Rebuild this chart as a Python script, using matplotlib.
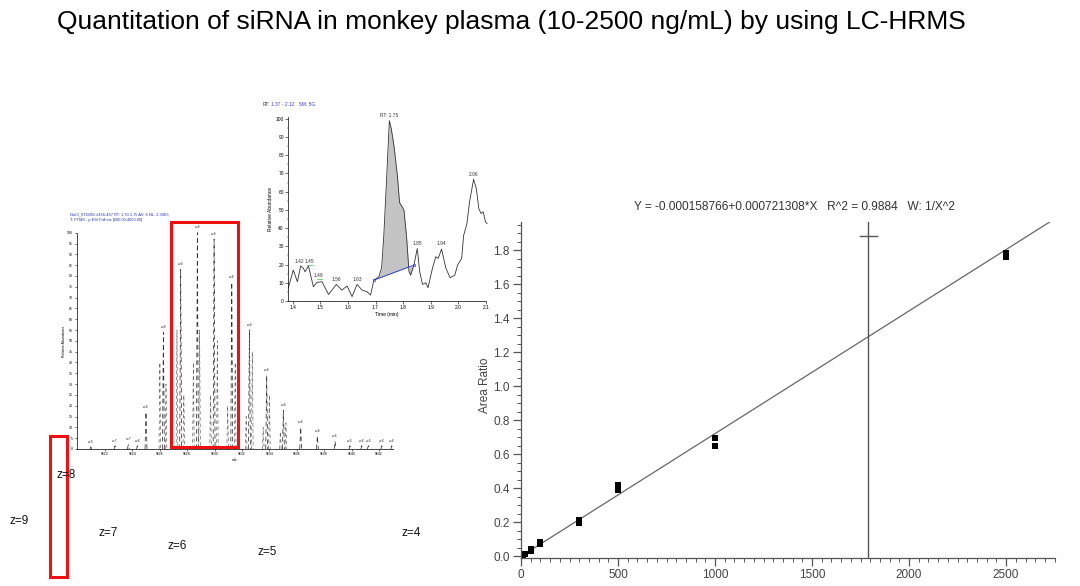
import numpy as np
import matplotlib
matplotlib.use("Agg")
import matplotlib.pyplot as plt
from matplotlib.ticker import MultipleLocator
from matplotlib.patches import Rectangle

plt.rcParams['font.family'] = ['Liberation Sans', 'DejaVu Sans']

# ---- calibration data (ng/mL vs area ratio, duplicates) ----
conc = [10, 10, 20, 20, 50, 50, 100, 100, 300, 300, 500, 500, 1000, 1000, 2500, 2500]
area_ratio = [0.004, 0.008, 0.011, 0.015, 0.032, 0.040, 0.070, 0.085,
              0.195, 0.212, 0.392, 0.420, 0.648, 0.698, 1.762, 1.780]
intercept = -0.000158766
slope = 0.000721308
fit_range = [0, 2760]
cursor_x = 1790
cursor_y = 1.88

# ---- extracted ion chromatogram (time min, relative abundance) ----
eic_t = [1.384, 1.402, 1.417, 1.429, 1.439, 1.445, 1.457, 1.475, 1.487, 1.506,
         1.530, 1.558, 1.578, 1.597, 1.615, 1.633, 1.651, 1.669, 1.682, 1.694,
         1.712, 1.722, 1.730, 1.740, 1.750, 1.757, 1.767, 1.779, 1.787, 1.797,
         1.803, 1.813, 1.821, 1.827, 1.839, 1.851, 1.860, 1.870, 1.882, 1.890,
         1.906, 1.918, 1.927, 1.939, 1.955, 1.970, 1.987, 1.997, 2.012, 2.019,
         2.031, 2.040, 2.055, 2.065, 2.074, 2.082, 2.090, 2.098, 2.104]
eic_a = [7, 17, 10.6, 19.3, 17.9, 16, 19.3, 7.8, 10.2, 10.6,
         3.6, 9.1, 6, 8.2, 2.4, 9.1, 6, 5.1, 3.3, 11.5,
         13.3, 18.2, 36, 67, 99, 94.5, 85, 69, 54, 51.6,
         49.8, 34, 16, 14.2, 19.7, 28.8, 16, 9.1, 10, 7.3,
         17.9, 24.3, 23.4, 28.5, 17.9, 12.8, 14.2, 19.7, 23.4, 36,
         42.5, 54, 66.8, 61.7, 50.7, 48, 49, 43.4, 42.5]
eic_labels = ['1.42', '1.45', '1.49', '1.56', '1.63', '1.85', '1.94', '2.06']
eic_label_t = [1.425, 1.462, 1.492, 1.558, 1.633, 1.851, 1.939, 2.055]
eic_label_a = [20.5, 20.5, 12.5, 10.5, 10.5, 30, 30, 68]
peak_start, peak_end = 1.694, 1.839

# ---- mass spectrum (m/z, relative abundance) ----
ms_mz = [9620.96, 9622.73, 9623.70, 9624.36, 9624.99, 9626.26, 9627.52, 9628.74,
         9629.96, 9631.25, 9632.54, 9633.80, 9635.02, 9636.28, 9637.50, 9638.79,
         9639.88, 9640.74, 9641.22, 9642.20, 9642.93]
ms_int = [1, 1.5, 2, 1.5, 17, 54, 83, 100, 97, 77, 55, 34, 18, 10, 6, 3.5,
          1.5, 1.5, 1.5, 1.5, 1.5]
ms_z = ['z=5', 'z=7', 'z=7', 'z=6', 'z=6', 'z=6', 'z=6', 'z=6', 'z=6', 'z=6',
        'z=6', 'z=6', 'z=6', 'z=6', 'z=6', 'z=6', 'z=5', 'z=6', 'z=5', 'z=6', 'z=6']
side_mz = [9626.00, 9626.45, 9627.25, 9627.75, 9628.45, 9628.90, 9629.70, 9630.20,
           9630.95, 9631.50, 9632.30, 9632.75, 9633.55, 9634.00, 9634.80, 9635.20]
side_int = [40, 30, 55, 25, 40, 55, 25, 50, 20, 40, 15, 45, 10, 25, 8, 12]
ms_ticks = [9622, 9624, 9626, 9628, 9630, 9632, 9634, 9636, 9638, 9640, 9642]

charge_labels = ['z=8', 'z=9', 'z=7', 'z=6', 'z=5', 'z=4']
charge_xy = [(66, 475), (19, 521), (108, 533), (177, 546), (267, 552), (411, 533)]

W, H = 1080, 586
fig = plt.figure(figsize=(W / 100, H / 100), dpi=100)


def px_axes(x0, y0, x1, y1):
    # pixel box (top-left origin) -> figure axes
    return fig.add_axes([x0 / W, 1 - y1 / H, (x1 - x0) / W, (y1 - y0) / H])


fig.text(511 / W, 1 - 22 / H,
         'Quantitation of siRNA in monkey plasma (10-2500 ng/mL) by using LC-HRMS',
         ha='center', va='center', fontsize=19, color='black')

# ================= calibration curve =================
ax = px_axes(521, 222, 1055, 558)
ax.set_xlim(0, 2752)
ax.set_ylim(-0.01, 1.965)
ax.plot(fit_range, [intercept + slope * x for x in fit_range], color='#666666', lw=0.9)
ax.plot(conc, area_ratio, 's', color='black', ms=5, mew=0)
ax.axvline(cursor_x, color='#555555', lw=1)
ax.plot([cursor_x - 45, cursor_x + 45], [cursor_y, cursor_y], color='#555555', lw=1)
for s in ['top', 'right']:
    ax.spines[s].set_visible(False)
for s in ['left', 'bottom']:
    ax.spines[s].set_color('#555555')
    ax.spines[s].set_linewidth(0.9)
ax.set_xticks([0, 500, 1000, 1500, 2000, 2500])
ax.set_yticks(np.arange(0, 1.81, 0.2))
ax.set_yticklabels(['%.1f' % v for v in np.arange(0, 1.81, 0.2)])
ax.xaxis.set_minor_locator(MultipleLocator(50))
ax.yaxis.set_minor_locator(MultipleLocator(0.05))
ax.tick_params(which='major', direction='out', length=6, width=0.9, color='#555555',
               labelsize=8.5, labelcolor='#444444', pad=2)
ax.tick_params(which='minor', direction='out', length=3, width=0.7, color='#555555')
ax.set_ylabel('Area Ratio', fontsize=8.5, color='#444444')
ax.yaxis.set_label_coords(-0.056, 0.515)
ax.set_title('Y = -0.000158766+0.000721308*X   R^2 = 0.9884   W: 1/X^2',
             fontsize=8.6, color='#333333', pad=9, x=0.512)

# ================= mass spectrum =================
ms = px_axes(76.7, 232.7, 393, 449)
ms.set_xlim(9619.93, 9643.02)
ms.set_ylim(0, 100)
for c, h in zip(side_mz, side_int):
    ms.plot([c - 0.06, c, c + 0.06], [0, h, 0], color='#666666', lw=0.5,
            dashes=(5, 4), clip_on=False)
for c, h, lab in zip(ms_mz, ms_int, ms_z):
    ms.plot([c - 0.07, c, c + 0.07], [0, h, 0], color='#333333', lw=0.55,
            dashes=(6, 4), clip_on=False)
    ms.text(c, h + 1.5, lab, fontsize=2.5, ha='center', va='bottom', color='#222222')
for s in ['top', 'right']:
    ms.spines[s].set_visible(False)
for s in ['left', 'bottom']:
    ms.spines[s].set_linewidth(0.5)
ms.set_xticks(ms_ticks)
ms.set_xticklabels([str(t) for t in ms_ticks])
ms.set_yticks(np.arange(0, 101, 5))
ms.xaxis.set_minor_locator(MultipleLocator(0.5))
ms.tick_params(which='major', length=1.5, width=0.4, labelsize=2.5, pad=1)
ms.tick_params(which='minor', length=1, width=0.3)
ms.set_ylabel('Relative Abundance', fontsize=2.5, labelpad=1)
ms.set_xlabel('m/z', fontsize=2.5, labelpad=1)
ms.text(-0.02, 1.08, 'NaCl_STD001 #456-467 RT: 1.70-1.75 AV: 6 NL: 2.36E5',
        transform=ms.transAxes, fontsize=2.8, color='#2233aa')
ms.text(-0.02, 1.055, 'T: FTMS - p ESI Full ms [600.00-4000.00]',
        transform=ms.transAxes, fontsize=2.8, color='#2233aa')

# ================= chromatogram inset =================
ch = px_axes(288, 117, 486, 301)
ch.set_xlim(1.383, 2.1)
ch.set_ylim(0, 101)
pk = [i for i, t in enumerate(eic_t) if peak_start <= t <= peak_end]
pt = [eic_t[i] for i in pk]
pa = [eic_a[i] for i in pk]
base = np.interp(pt, [peak_start, peak_end], [eic_a[pk[0]], eic_a[pk[-1]]])
ch.fill_between(pt, base, pa, color='#c4c4c4', lw=0)
ch.plot(eic_t, eic_a, color='#333333', lw=0.6, clip_on=False)
ch.plot([pt[0], pt[-1]], [pa[0], pa[-1]], color='#3344dd', lw=0.7,
        marker='s', ms=2, mfc='none', mew=0.5)
for t, a, lab in zip(eic_label_t, eic_label_a, eic_labels):
    ch.text(t, a, lab, fontsize=3.5, ha='center', va='bottom', color='#333333')
ch.plot([1.452, 1.472], [19.5, 19.5], color='#44bb44', lw=0.5)
ch.plot([1.487, 1.507], [12, 12], color='#44bb44', lw=0.5)
ch.text(1.75, 100.5, 'RT: 1.75', fontsize=3.5, ha='center', va='bottom', color='#333333')
for s in ['top', 'right']:
    ch.spines[s].set_visible(False)
for s in ['left', 'bottom']:
    ch.spines[s].set_linewidth(0.5)
ch.set_xticks([1.4, 1.5, 1.6, 1.7, 1.8, 1.9, 2.0, 2.1])
ch.set_yticks(np.arange(0, 101, 10))
ch.xaxis.set_minor_locator(MultipleLocator(0.05))
ch.yaxis.set_minor_locator(MultipleLocator(5))
ch.tick_params(which='major', length=2, width=0.4, labelsize=3.5, pad=1)
ch.tick_params(which='minor', length=1, width=0.3)
ch.set_xlabel('Time (min)', fontsize=3.5, labelpad=1)
ch.set_ylabel('Relative Abundance', fontsize=3.5, labelpad=2)
ch.text(-0.13, 1.06, 'RT:', transform=ch.transAxes, fontsize=3.5, color='#333333')
ch.text(-0.085, 1.06, '1.37 - 2.12   SM: 5G', transform=ch.transAxes,
        fontsize=3.5, color='#3344dd')

# ================= overlay: red boxes and charge labels =================
ov = fig.add_axes([0, 0, 1, 1])
ov.set_xlim(0, W)
ov.set_ylim(H, 0)
ov.axis('off')
ov.patch.set_alpha(0)
ov.add_patch(Rectangle((170.5, 221.5), 67, 225.5, fill=False, ec='#ee1111', lw=2.2))
ov.add_patch(Rectangle((49.5, 435.5), 17, 141, fill=False, ec='#ee1111', lw=2.2))
for lab, (x, y) in zip(charge_labels, charge_xy):
    ov.text(x, y, lab, fontsize=8.5, ha='center', va='center', color='#111111')

fig.savefig('out.png', dpi=100)
